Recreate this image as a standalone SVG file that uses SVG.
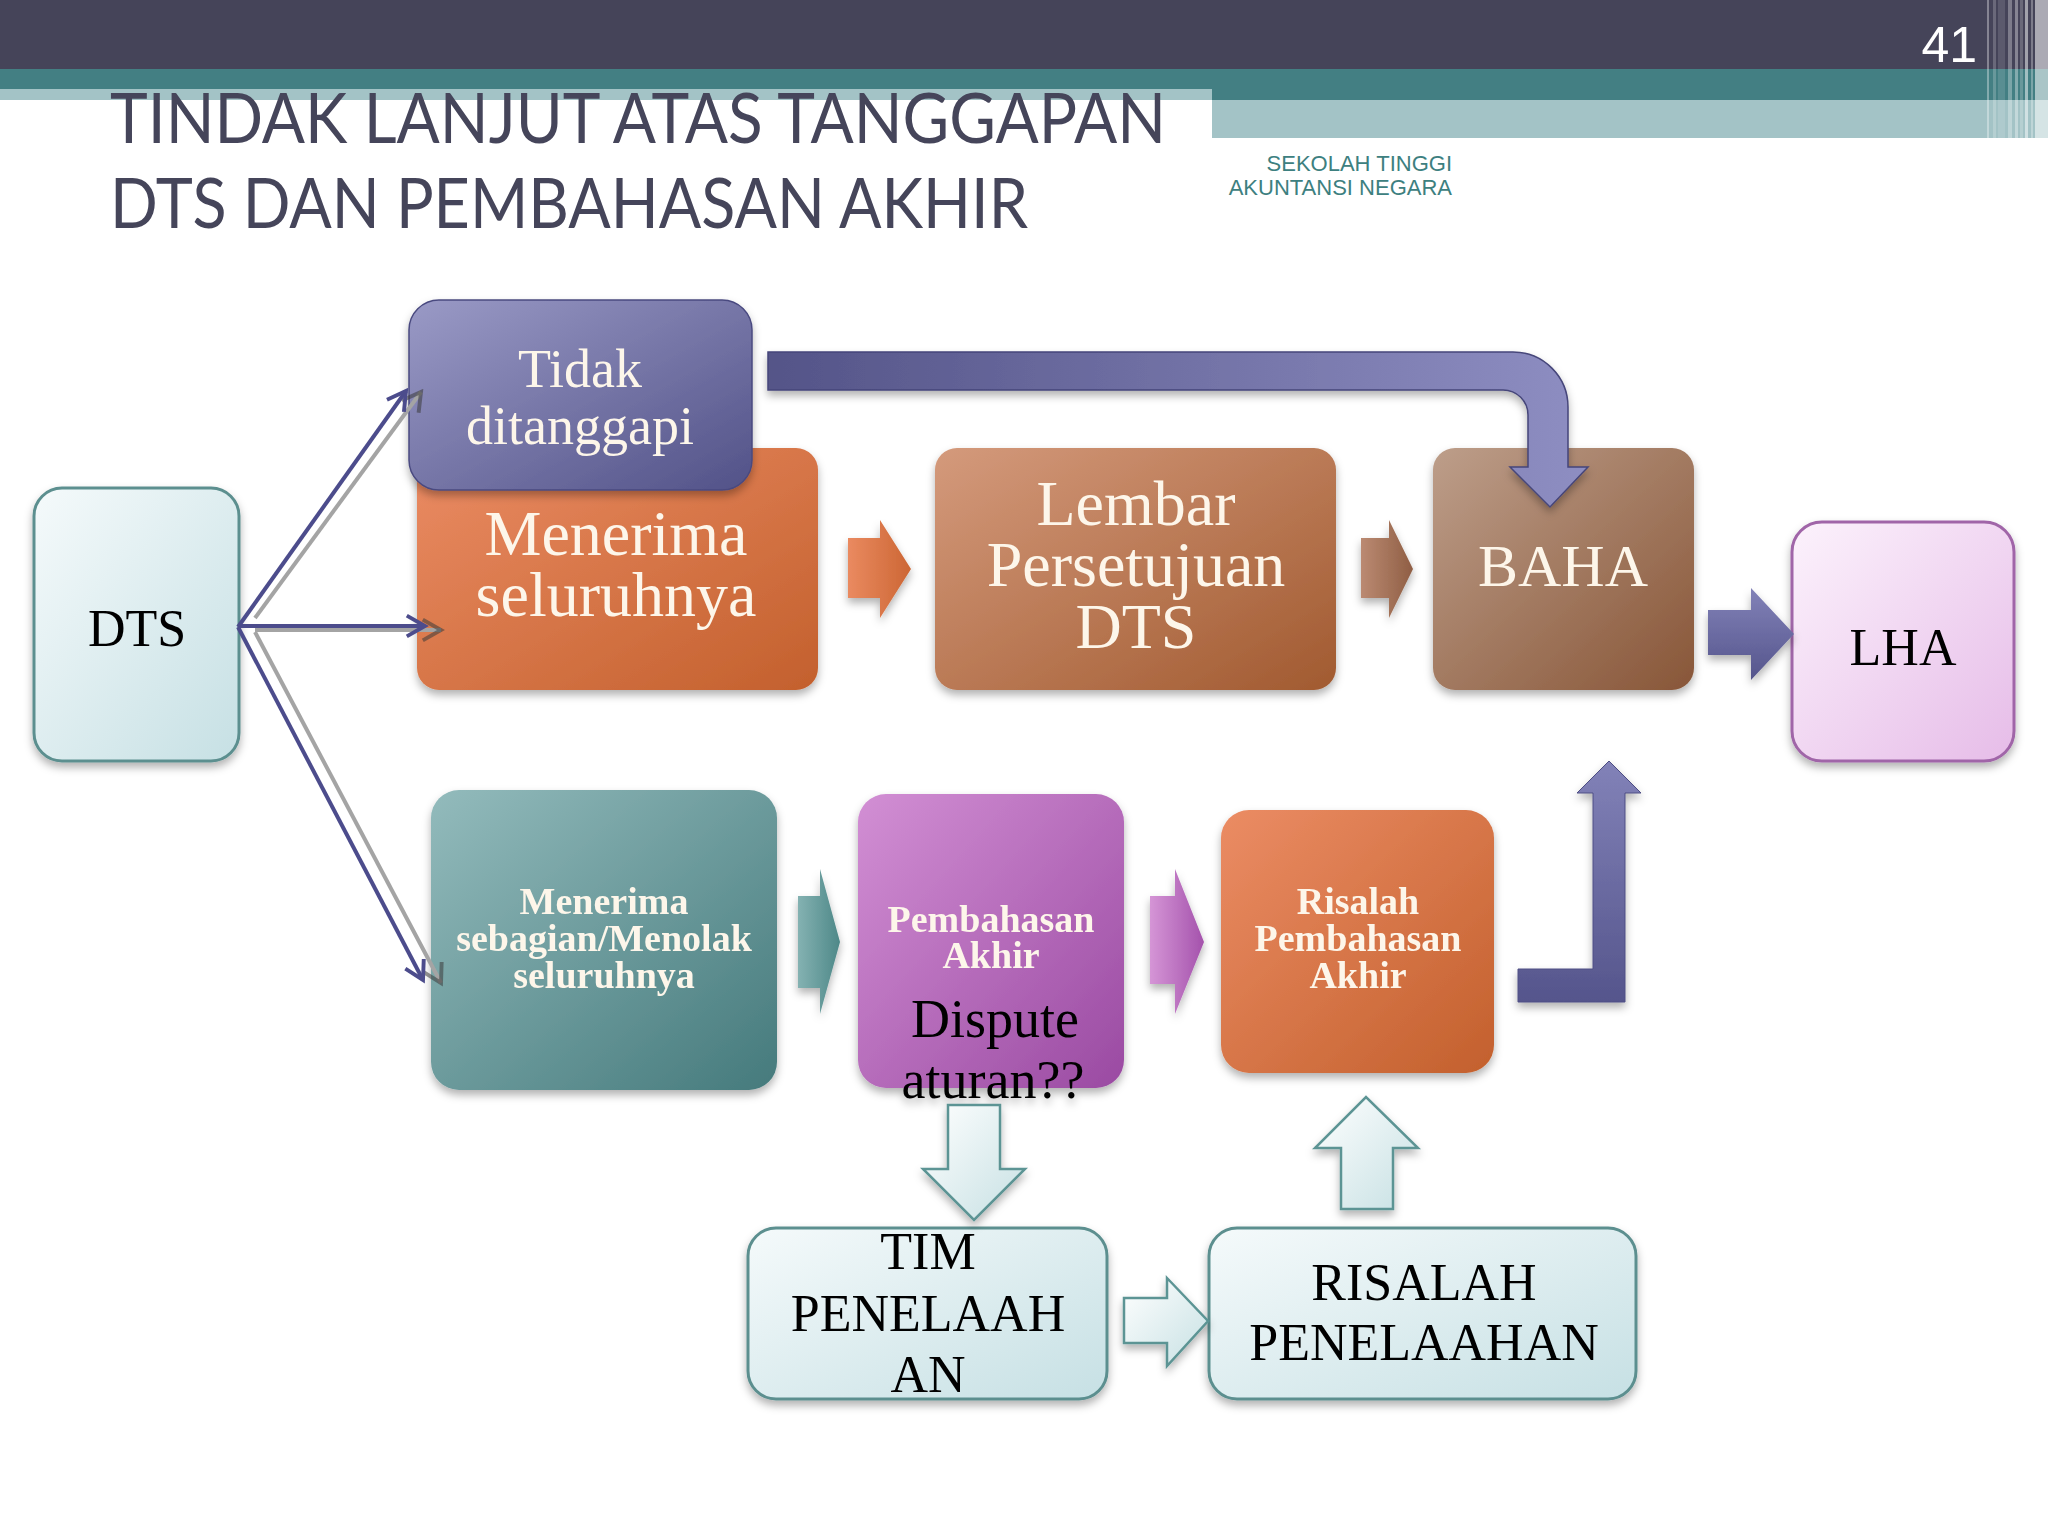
<svg xmlns="http://www.w3.org/2000/svg" width="2048" height="1536" viewBox="0 0 2048 1536">
<defs>
<style>
.ttl{font-family:Lato,"Open Sans","DejaVu Sans",sans-serif;fill:#45455a;font-size:70px}
.sub{font-family:"Liberation Sans",Arial,sans-serif;fill:#3d8080;font-size:22px}
.w{font-family:"Liberation Serif","Times New Roman",serif;fill:#fdf6ea;text-anchor:middle}
.k{font-family:"Liberation Serif","Times New Roman",serif;fill:#000;text-anchor:middle}
.sm{font-size:38px;font-weight:bold}
.lt{stroke:#5c9494;stroke-width:2.5}
.pl{stroke:#4c4c8c;stroke-width:4;fill:none}
.gl{stroke:#a4a4a4;stroke-width:4;fill:none}
</style>
<filter id="sh" x="-10%" y="-10%" width="130%" height="130%">
<feDropShadow dx="0" dy="5" stdDeviation="4" flood-color="#000" flood-opacity="0.3"/>
</filter>
<linearGradient id="gLight" x1="0" y1="0" x2="1" y2="1"><stop offset="0" stop-color="#f5fafb"/><stop offset="1" stop-color="#c6e0e4"/></linearGradient>
<linearGradient id="gLightA" x1="0" y1="0" x2="1" y2="1"><stop offset="0" stop-color="#ffffff"/><stop offset="1" stop-color="#c6e0e3"/></linearGradient>
<linearGradient id="gPur" x1="0" y1="0" x2="1" y2="1"><stop offset="0" stop-color="#9a9ac6"/><stop offset="1" stop-color="#525288"/></linearGradient>
<linearGradient id="gOr" x1="0" y1="0" x2="1" y2="1"><stop offset="0" stop-color="#eb8c64"/><stop offset="1" stop-color="#c3602d"/></linearGradient>
<linearGradient id="gBr" x1="0" y1="0" x2="1" y2="1"><stop offset="0" stop-color="#d49a7c"/><stop offset="1" stop-color="#a15a30"/></linearGradient>
<linearGradient id="gBaha" x1="0" y1="0" x2="1" y2="1"><stop offset="0" stop-color="#bd9e8a"/><stop offset="1" stop-color="#885638"/></linearGradient>
<linearGradient id="gPink" x1="0" y1="0" x2="1" y2="1"><stop offset="0" stop-color="#fcf2fc"/><stop offset="1" stop-color="#e6bce8"/></linearGradient>
<linearGradient id="gTeal" x1="0" y1="0" x2="1" y2="1"><stop offset="0" stop-color="#93bbbc"/><stop offset="1" stop-color="#457a7c"/></linearGradient>
<linearGradient id="gMag" x1="0" y1="0" x2="1" y2="1"><stop offset="0" stop-color="#d28fd4"/><stop offset="1" stop-color="#9a4aa2"/></linearGradient>
<linearGradient id="gArrPur" x1="0" y1="0" x2="1" y2="0"><stop offset="0" stop-color="#545488"/><stop offset="1" stop-color="#8e8ec2"/></linearGradient>
<linearGradient id="gArrPurV" x1="0" y1="0" x2="0" y2="1"><stop offset="0" stop-color="#8282b8"/><stop offset="1" stop-color="#55558c"/></linearGradient>
<linearGradient id="gArrOr" x1="0" y1="0" x2="1" y2="0"><stop offset="0" stop-color="#ea8a60"/><stop offset="1" stop-color="#cc6634"/></linearGradient>
<linearGradient id="gArrBr" x1="0" y1="0" x2="1" y2="0"><stop offset="0" stop-color="#bb8a72"/><stop offset="1" stop-color="#8f5e44"/></linearGradient>
<linearGradient id="gArrTeal" x1="0" y1="0" x2="1" y2="0"><stop offset="0" stop-color="#84b2b2"/><stop offset="1" stop-color="#4e8888"/></linearGradient>
<linearGradient id="gArrMag" x1="0" y1="0" x2="1" y2="0"><stop offset="0" stop-color="#d595d6"/><stop offset="1" stop-color="#a452ac"/></linearGradient>
<marker id="mP" viewBox="0 0 20 20" refX="17" refY="10" markerWidth="26" markerHeight="26" markerUnits="userSpaceOnUse" orient="auto"><path d="M3,2 L17,10 L3,18" fill="none" stroke="#4c4c8c" stroke-width="3"/></marker>
<marker id="mG" viewBox="0 0 20 20" refX="17" refY="10" markerWidth="26" markerHeight="26" markerUnits="userSpaceOnUse" orient="auto"><path d="M3,2 L17,10 L3,18" fill="none" stroke="#3a3a3a" stroke-opacity="0.55" stroke-width="3"/></marker>
</defs>
<rect width="2048" height="1536" fill="#ffffff"/>
<!-- header -->
<rect x="0" y="0" width="2048" height="69" fill="#454459"/>
<rect x="0" y="69" width="2048" height="31" fill="#437f83"/>
<rect x="0" y="89" width="1212" height="11" fill="#a3c3c6"/>
<rect x="1212" y="100" width="836" height="38" fill="#a3c3c6"/>
<g fill="#ffffff">
<rect x="1987" y="0" width="2" height="138" opacity="0.35"/>
<rect x="1993" y="0" width="3" height="138" opacity="0.2"/>
<rect x="1998" y="0" width="7" height="138" opacity="0.12"/>
<rect x="2008" y="0" width="4" height="138" opacity="0.3"/>
<rect x="2015" y="0" width="3" height="138" opacity="0.35"/>
<rect x="2020" y="0" width="3" height="138" opacity="0.2"/>
<rect x="2025" y="0" width="3" height="138" opacity="0.5"/>
<rect x="2031" y="0" width="2" height="138" opacity="0.3"/>
<rect x="2035" y="0" width="13" height="138" opacity="0.55"/>
</g>
<text x="1977" y="62" font-family="'Liberation Sans',Arial,sans-serif" font-size="50" fill="#ffffff" text-anchor="end">41</text>
<text class="ttl" x="110" y="143" textLength="1056" lengthAdjust="spacingAndGlyphs">TINDAK LANJUT ATAS TANGGAPAN</text>
<text class="ttl" x="110" y="228" textLength="918" lengthAdjust="spacingAndGlyphs">DTS DAN PEMBAHASAN AKHIR</text>
<text class="sub" x="1452" y="171" text-anchor="end">SEKOLAH TINGGI</text>
<text class="sub" x="1452" y="195" text-anchor="end">AKUNTANSI NEGARA</text>

<!-- nodes -->
<g id="dts" filter="url(#sh)"><rect x="34" y="488" width="205" height="273" rx="28" fill="url(#gLight)" stroke="#5c8f8f" stroke-width="3"/><text class="k" x="137" y="646" font-size="52">DTS</text></g>
<g id="menerima" filter="url(#sh)"><rect x="417" y="448" width="401" height="242" rx="22" fill="url(#gOr)"/><text class="w" x="616" y="555" font-size="64">Menerima</text><text class="w" x="616" y="616" font-size="64">seluruhnya</text></g>
<g id="tidak" filter="url(#sh)"><rect x="409" y="300" width="343" height="190" rx="30" fill="url(#gPur)" stroke="#4a4a80" stroke-width="1.5"/><text class="w" x="580" y="387" font-size="54">Tidak</text><text class="w" x="580" y="444" font-size="54">ditanggapi</text></g>
<g id="lembar" filter="url(#sh)"><rect x="935" y="448" width="401" height="242" rx="22" fill="url(#gBr)"/><text class="w" x="1136" y="525" font-size="64">Lembar</text><text class="w" x="1136" y="586" font-size="64">Persetujuan</text><text class="w" x="1136" y="648" font-size="64">DTS</text></g>
<g id="baha" filter="url(#sh)"><rect x="1433" y="448" width="261" height="242" rx="22" fill="url(#gBaha)"/><text class="w" x="1563" y="586" font-size="60">BAHA</text></g>
<g id="lha" filter="url(#sh)"><rect x="1792" y="522" width="222" height="239" rx="30" fill="url(#gPink)" stroke="#a065a8" stroke-width="3"/><text class="k" x="1903" y="665" font-size="52">LHA</text></g>
<g id="sebagian" filter="url(#sh)"><rect x="431" y="790" width="346" height="300" rx="28" fill="url(#gTeal)"/><text class="w sm" x="604" y="914">Menerima</text><text class="w sm" x="604" y="951">sebagian/Menolak</text><text class="w sm" x="604" y="988">seluruhnya</text></g>
<g id="pembahasan" filter="url(#sh)"><rect x="858" y="794" width="266" height="294" rx="28" fill="url(#gMag)"/><text class="w sm" x="991" y="932">Pembahasan</text><text class="w sm" x="991" y="968">Akhir</text><text class="k" x="995" y="1037" font-size="54">Dispute</text><text class="k" x="993" y="1098" font-size="54">aturan??</text></g>
<g id="risalah" filter="url(#sh)"><rect x="1221" y="810" width="273" height="263" rx="28" fill="url(#gOr)"/><text class="w sm" x="1358" y="914">Risalah</text><text class="w sm" x="1358" y="951">Pembahasan</text><text class="w sm" x="1358" y="988">Akhir</text></g>
<g id="tim" filter="url(#sh)"><rect x="748" y="1228" width="359" height="171" rx="28" fill="url(#gLight)" stroke="#5c8f8f" stroke-width="3"/><text class="k" x="928" y="1269" font-size="52">TIM</text><text class="k" x="928" y="1331" font-size="52">PENELAAH</text><text class="k" x="928" y="1392" font-size="52">AN</text></g>
<g id="risalah-penelaahan" filter="url(#sh)"><rect x="1209" y="1228" width="427" height="171" rx="28" fill="url(#gLight)" stroke="#5c8f8f" stroke-width="3"/><text class="k" x="1424" y="1300" font-size="52">RISALAH</text><text class="k" x="1424" y="1360" font-size="52">PENELAAHAN</text></g>

<!-- connectors -->
<g id="connectors">
<line class="gl" x1="255" y1="618" x2="421" y2="392" marker-end="url(#mG)"/>
<line class="pl" x1="238" y1="627" x2="406" y2="391" marker-end="url(#mP)"/>
<line class="gl" x1="255" y1="630" x2="441" y2="630" marker-end="url(#mG)"/>
<line class="pl" x1="238" y1="626" x2="425" y2="626" marker-end="url(#mP)"/>
<line class="gl" x1="255" y1="632" x2="441" y2="983" marker-end="url(#mG)"/>
<line class="pl" x1="238" y1="627" x2="423" y2="980" marker-end="url(#mP)"/>
<g filter="url(#sh)">
<path d="M768 352 L1513 352 A55 55 0 0 1 1568 407 L1568 467 L1588 467 L1550 507 L1510 467 L1528 467 L1528 415 A25 25 0 0 0 1503 390 L768 390 Z" fill="url(#gArrPur)" stroke="#46467a" stroke-width="1.5"/>
<path d="M848 538 L880 538 L880 520 L911 569 L880 618 L880 598 L848 598 Z" fill="url(#gArrOr)"/>
<path d="M1361 538 L1389 538 L1389 520 L1413 569 L1389 618 L1389 598 L1361 598 Z" fill="url(#gArrBr)"/>
<path d="M1708 610 L1751 610 L1751 588 L1794 634 L1751 680 L1751 655 L1708 655 Z" fill="url(#gArrPurV)"/>
<path d="M798 896 L820 896 L820 869 L840 942 L820 1014 L820 988 L798 988 Z" fill="url(#gArrTeal)"/>
<path d="M1150 896 L1175 896 L1175 869 L1204 942 L1175 1014 L1175 984 L1150 984 Z" fill="url(#gArrMag)"/>
<path d="M1518 969 L1593 969 L1593 793 L1577 793 L1609 761 L1641 793 L1625 793 L1625 1002 L1518 1002 Z" fill="url(#gArrPurV)" stroke="#4e4e84" stroke-width="1"/>
<path class="lt" d="M948 1105 L1000 1105 L1000 1169 L1025 1169 L974 1220 L923 1169 L948 1169 Z" fill="url(#gLightA)"/>
<path class="lt" d="M1341 1209 L1393 1209 L1393 1148 L1418 1148 L1366 1097 L1315 1148 L1341 1148 Z" fill="url(#gLightA)"/>
<path class="lt" d="M1124 1298 L1167 1298 L1167 1278 L1208 1321 L1167 1366 L1167 1343 L1124 1343 Z" fill="url(#gLightA)"/>
</g>
</g>
</svg>
